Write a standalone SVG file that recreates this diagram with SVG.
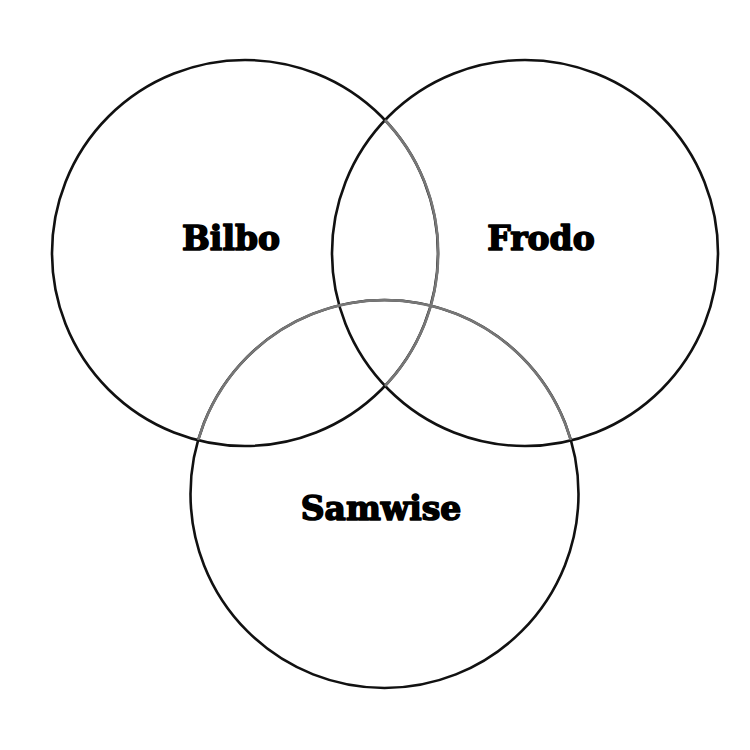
<svg xmlns="http://www.w3.org/2000/svg" width="750" height="750" viewBox="0 0 750 750">
<style>
.c{fill:none;stroke:#111;stroke-width:2.6}
.g{fill:none;stroke:#777;stroke-width:2.6}
.t{font-family:"DejaVu Serif","Liberation Serif",serif;font-weight:bold;font-size:33px;fill:#000;stroke:#000;stroke-width:1.6;stroke-linejoin:round;text-anchor:middle}
</style>
<rect width="750" height="750" fill="#fff"/>
<g id="bilbo"><circle class="c" cx="245" cy="253" r="193"/><text class="t" x="231" y="250">Bilbo</text></g>
<g id="frodo"><circle class="c" cx="525" cy="253" r="193"/><text class="t" x="541" y="250">Frodo</text></g>
<g id="samwise"><circle class="c" cx="384.5" cy="494" r="194"/><text class="t" x="381" y="520">Samwise</text></g>
<g id="overlaps">
<path class="g" d="M198.2,440 A194,194 0 0 1 570.8,440"/>
<path class="g" d="M385,120 A193,193 0 0 1 385,386"/>
</g>
</svg>
